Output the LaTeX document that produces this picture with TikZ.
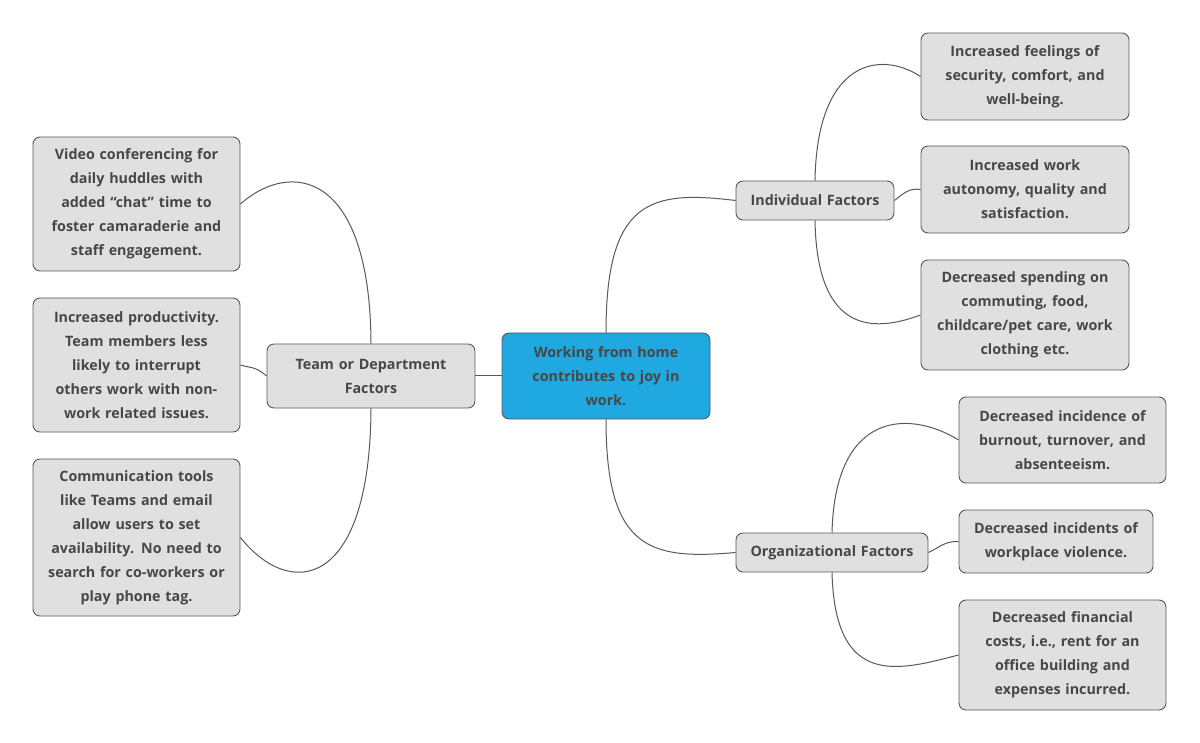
\documentclass[tikz,border=0pt]{standalone}
\usepackage{fontspec}
\setmainfont{Open Sans}
\begin{document}
\begin{tikzpicture}[x=1pt,y=-1pt,
 box/.style={draw=black!65,line width=0.9pt,fill=black!12,rounded corners=7pt,align=center,
   font=\bfseries\fontsize{14.3}{24}\selectfont,text=black!72,inner sep=0pt},
 ln/.style={draw=black!65,line width=1pt}]
\useasboundingbox (0,0) rectangle (1200,743);
\newcommand{\bx}[6]{\node[box,minimum width=#4-#2,minimum height=#5-#3,text width=#4-#2-12] (#1) at ({(#2+#4)/2},{(#3+#5)/2}) {#6};}
\node[box,fill=cyan!80!blue!80!white,fill={rgb,255:red,32;green,168;blue,224},minimum width=208,minimum height=86,text width=196] (c) at (606,376) {Working from home\\contributes to joy in\\work.};
\bx{t}{267}{344}{475}{408}{Team or Department\\Factors}
\bx{i}{736}{181}{894}{220}{Individual Factors}
\bx{o}{736}{533}{928}{572}{Organizational Factors}
\bx{a}{921}{33}{1129}{120}{Increased feelings of\\security, comfort, and\\well-being.}
\bx{b}{921}{146}{1129}{233}{Increased work\\autonomy, quality and\\satisfaction.}
\bx{cc}{921}{260}{1129}{370}{Decreased spending on\\commuting, food,\\childcare/pet care, work\\clothing etc.}
\bx{d}{959}{397}{1166}{483}{Decreased incidence of\\burnout, turnover, and\\absenteeism.}
\bx{e}{959}{510}{1153}{573}{Decreased incidents of\\workplace violence.}
\bx{f}{959}{600}{1166}{710}{Decreased financial\\costs, i.e., rent for an\\office building and\\expenses incurred.}
\bx{g}{33}{137}{240}{271}{Video conferencing for\\daily huddles with\\added “chat” time to\\foster camaraderie and\\staff engagement.}
\bx{h}{33}{298}{240}{432}{Increased productivity.\\Team members less\\likely to interrupt\\others work with non-\\work related issues.}
\bx{k}{33}{459}{240}{616}{Communication tools\\like Teams and email\\allow users to set\\availability. No need to\\search for co-workers or\\play phone tag.}
\draw[ln] (c.west) -- (t.east);
\draw[ln] (c.north) .. controls (606,200) and (650,190) .. (i.west);
\draw[ln] (c.south) .. controls (606,550) and (650,560) .. (o.west);
\draw[ln] (t.north) .. controls (370,170) and (290,160) .. (g.east);
\draw[ln] (t.west) .. controls (255,366) and (250,368) .. (h.east);
\draw[ln] (t.south) .. controls (370,590) and (290,600) .. (k.east);
\draw[ln] (i.north) ++(0,0) .. controls (817,60) and (880,50) .. (a.west);
\draw[ln] (i.east) .. controls (905,192) and (910,188) .. (b.west);
\draw[ln] (i.south) .. controls (817,340) and (880,330) .. (cc.west);
\draw[ln] (o.north) .. controls (835,410) and (910,410) .. (d.west);
\draw[ln] (o.east) .. controls (940,547) and (945,541) .. (e.west);
\draw[ln] (o.south) .. controls (835,690) and (900,670) .. (f.west);
\end{tikzpicture}
\end{document}
